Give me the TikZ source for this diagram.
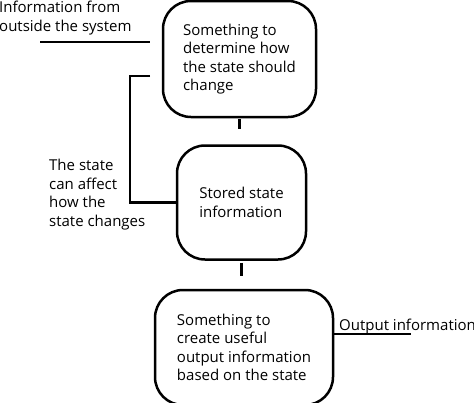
\documentclass[tikz,border=0pt]{standalone}
\usepackage{fontspec}
\setmainfont{Open Sans}
\usetikzlibrary{positioning}

\begin{document}
\begin{tikzpicture}[x=1pt, y=-1pt, box/.style = {draw, rounded corners=28pt, line width=2.5pt, align=left, inner sep=0, font=\fontsize{15}{18.5}\selectfont}, lbl/.style = {align=left, inner sep=0, anchor=west, font=\fontsize{15}{18.5}\selectfont}, wire/.style = {line width=2.5pt}, node distance=26pt]

\useasboundingbox (0,0) rectangle (474,402);

\node[box, minimum width=153pt, minimum height=116pt](decide) at (239.5,59){Something to\\determine how\\the state should\\change};
\node[box, minimum width=129pt, minimum height=114pt, below=26pt of decide, xshift=2pt](state){Stored state\\information};
\node[box, minimum width=178pt, minimum height=115pt, below=28pt of state, xshift=2.5pt](output){Something to\\create useful\\output information\\based on the state};

\node[lbl](inlbl) at (-1,18){Information from\\outside the system};
\node[lbl](fblbl) at (49,194.5){The state\\can affect\\how the\\state changes};
\node[lbl](outlbl) at (339,327){Output information};

\coordinate (in1) at (40,42);
\coordinate (in2) at (150,42);
\coordinate (fb) at (150,76);
\coordinate (outend) at (411,334);

\draw [wire] (in1) to (in2);
\draw [wire] (fb) -- ++(-20,0) |- (state.west);
\draw [wire, shorten <=1pt, shorten >=15pt] (decide.south) to (decide.south |- state.north);
\draw [wire, shorten <=2pt, shorten >=13pt] (state.south) to (state.south |- output.north);
\draw [wire] (output.east |- outend) to (outend);

\end{tikzpicture}
\end{document}
